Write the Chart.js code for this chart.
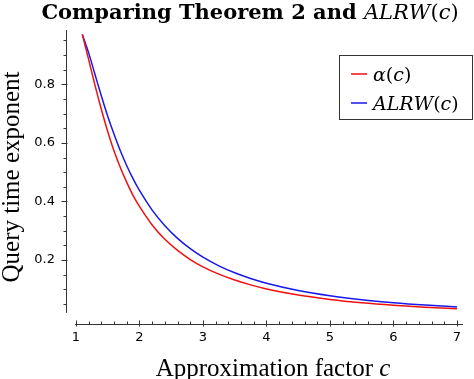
<!DOCTYPE html>
<html><head><meta charset="utf-8">
<script src="https://cdn.jsdelivr.net/npm/chart.js@4"></script>
<style>html,body{margin:0;padding:0;background:#fff}#wrap{width:474px;height:379px;position:relative}</style>
</head><body><div id="wrap"><canvas id="c" width="474" height="379"></canvas></div>
<script>
// ---- data ----
const cValues     = [1.1, 1.2, 1.3, 1.4, 1.5, 1.6, 1.7, 1.8, 1.9, 2.0, 2.2, 2.4, 2.6, 2.8, 3.0, 3.25, 3.5, 3.75, 4.0, 4.5, 5.0, 5.5, 6.0, 6.5, 7.0];
const alphaValues = [0.970, 0.884, 0.796, 0.714, 0.639, 0.572, 0.515, 0.465, 0.420, 0.383, 0.320, 0.271, 0.233, 0.202, 0.177, 0.152, 0.132, 0.1155, 0.1017, 0.0809, 0.0659, 0.0546, 0.0460, 0.0393, 0.0339];
const alrwValues  = [0.970, 0.907, 0.833, 0.760, 0.691, 0.629, 0.572, 0.522, 0.477, 0.4375, 0.3705, 0.3171, 0.274, 0.2388, 0.2099, 0.1804, 0.1566, 0.1372, 0.1211, 0.0963, 0.0784, 0.0650, 0.0548, 0.0468, 0.0404];
const xTickLabels = [1, 2, 3, 4, 5, 6, 7];
const yTickLabels = [0.2, 0.4, 0.6, 0.8];
const seriesNames = ['α(c)', 'ALRW(c)'];
const titleBold   = 'Comparing Theorem 2 and ';
const titleMath   = 'ALRW(c)';
const xAxisTitle  = 'Approximation factor ';
const xAxisVar    = 'c';
const yAxisTitle  = 'Query time exponent';

const SERIF = '"Liberation Serif", "Times New Roman", serif';
const WSERIF = '"DejaVu Serif", serif';
const SANS = '"DejaVu Sans", sans-serif';
const RED = '#f01010';
const BLUE = '#1818ea';

function mathSegs(s, size) {
  return Array.from(s).map(ch => ({t: ch, f: (ch === '(' || ch === ')') ? `${size}px ${WSERIF}` : `italic ${size}px ${WSERIF}`}));
}
function drawSegs(ctx, segs, x, y, align) {
  let w = 0;
  segs.forEach(s => { ctx.font = s.f; w += ctx.measureText(s.t).width; });
  let cx = align === 'center' ? x - w / 2 : x;
  ctx.textAlign = 'left';
  segs.forEach(s => { ctx.font = s.f; ctx.fillText(s.t, cx, y); cx += ctx.measureText(s.t).width; });
}

const decor = {
  id: 'decor',
  afterDraw(chart) {
    const ctx = chart.ctx;
    const xs = chart.scales.x, ys = chart.scales.y, ca = chart.chartArea;
    ctx.save();
    ctx.strokeStyle = '#333';
    ctx.lineWidth = 1;
    // y axis line
    const ax = Math.round(ca.left) + 0.5;
    ctx.beginPath();
    ctx.moveTo(ax, ys.getPixelForValue(0.985));
    ctx.lineTo(ax, ys.getPixelForValue(0.02));
    ctx.stroke();
    for (let i = 1; i <= 19; i++) {
      const v = i * 0.05;
      const y = Math.round(ys.getPixelForValue(v)) + 0.5;
      const major = yTickLabels.some(t => Math.abs(t - v) < 1e-6);
      ctx.beginPath();
      ctx.moveTo(ax - (major ? 5 : 3), y);
      ctx.lineTo(ax + (major ? 1 : 0), y);
      ctx.stroke();
    }
    // x axis line
    const ay = Math.round(ca.bottom) + 0.5;
    ctx.beginPath();
    ctx.moveTo(xs.getPixelForValue(0.984), ay);
    ctx.lineTo(ca.right, ay);
    ctx.stroke();
    for (let i = 0; i <= 30; i++) {
      const v = 1 + i * 0.2;
      const x = Math.round(xs.getPixelForValue(v)) + 0.5;
      const major = xTickLabels.some(t => Math.abs(t - v) < 1e-6);
      ctx.beginPath();
      ctx.moveTo(x, ay - (major ? 4 : 3));
      ctx.lineTo(x, ay + (major ? 2 : 0));
      ctx.stroke();
    }
    ctx.fillStyle = '#000';
    ctx.textBaseline = 'alphabetic';
    // title: bold part fitted to the reference width
    ctx.font = `bold 20px ${WSERIF}`;
    const bw = ctx.measureText(titleBold).width;
    const bsize = Math.min(21, 20 * 332 / bw);
    const tsegs = [{t: titleBold, f: `bold ${bsize.toFixed(2)}px ${WSERIF}`}].concat(mathSegs(titleMath, 21));
    drawSegs(ctx, tsegs, 250, 19, 'center');
    // x axis title
    drawSegs(ctx, [{t: xAxisTitle, f: `25px ${SERIF}`}, {t: xAxisVar, f: `italic 25px ${SERIF}`}], 273, 376, 'center');
    // legend
    ctx.fillStyle = '#fff';
    ctx.fillRect(339.5, 55.5, 133, 64);
    ctx.strokeStyle = '#333';
    ctx.lineWidth = 1;
    ctx.strokeRect(339.5, 55.5, 133, 64);
    const rows = [74, 103];
    chart.data.datasets.forEach((ds, i) => {
      ctx.strokeStyle = ds.borderColor;
      ctx.lineWidth = 1.5;
      ctx.beginPath();
      ctx.moveTo(351, rows[i]);
      ctx.lineTo(367, rows[i]);
      ctx.stroke();
      ctx.fillStyle = '#000';
      drawSegs(ctx, mathSegs(ds.label, 19), 373, rows[i] + 7, 'left');
    });
    ctx.restore();
  }
};

const mk = vals => cValues.map((c, i) => ({x: c, y: vals[i]}));

new Chart(document.getElementById('c'), {
  type: 'line',
  data: {
    datasets: [
      {label: seriesNames[0], data: mk(alphaValues), borderColor: RED, borderWidth: 1.5, pointRadius: 0, cubicInterpolationMode: 'monotone', fill: false},
      {label: seriesNames[1], data: mk(alrwValues), borderColor: BLUE, borderWidth: 1.5, pointRadius: 0, cubicInterpolationMode: 'monotone', fill: false}
    ]
  },
  options: {
    responsive: false,
    devicePixelRatio: 1,
    animation: false,
    layout: {padding: {top: 30, right: 11, left: 0, bottom: 0}},
    plugins: {legend: {display: false}, title: {display: false}, tooltip: {enabled: false}},
    scales: {
      x: {
        type: 'linear', min: 0.843, max: 7.095,
        afterFit: s => { s.height = 55; },
        afterBuildTicks: s => { s.ticks = xTickLabels.map(v => ({value: v})); },
        grid: {display: false, drawTicks: false},
        border: {display: false},
        ticks: {font: {family: SANS, size: 13}, color: '#000', padding: 6, maxRotation: 0, callback: v => String(v)}
      },
      y: {
        type: 'linear', min: -0.018, max: 0.985,
        afterFit: s => { s.width = 66; },
        afterBuildTicks: s => { s.ticks = yTickLabels.map(v => ({value: v})); },
        grid: {display: false, drawTicks: false},
        border: {display: false},
        ticks: {font: {family: SANS, size: 13}, color: '#000', padding: 11, callback: v => v.toFixed(1)},
        title: {display: true, text: yAxisTitle, font: {family: SERIF, size: 25, lineHeight: 1}, color: '#000', padding: 0}
      }
    }
  },
  plugins: [decor]
});
</script></body></html>
